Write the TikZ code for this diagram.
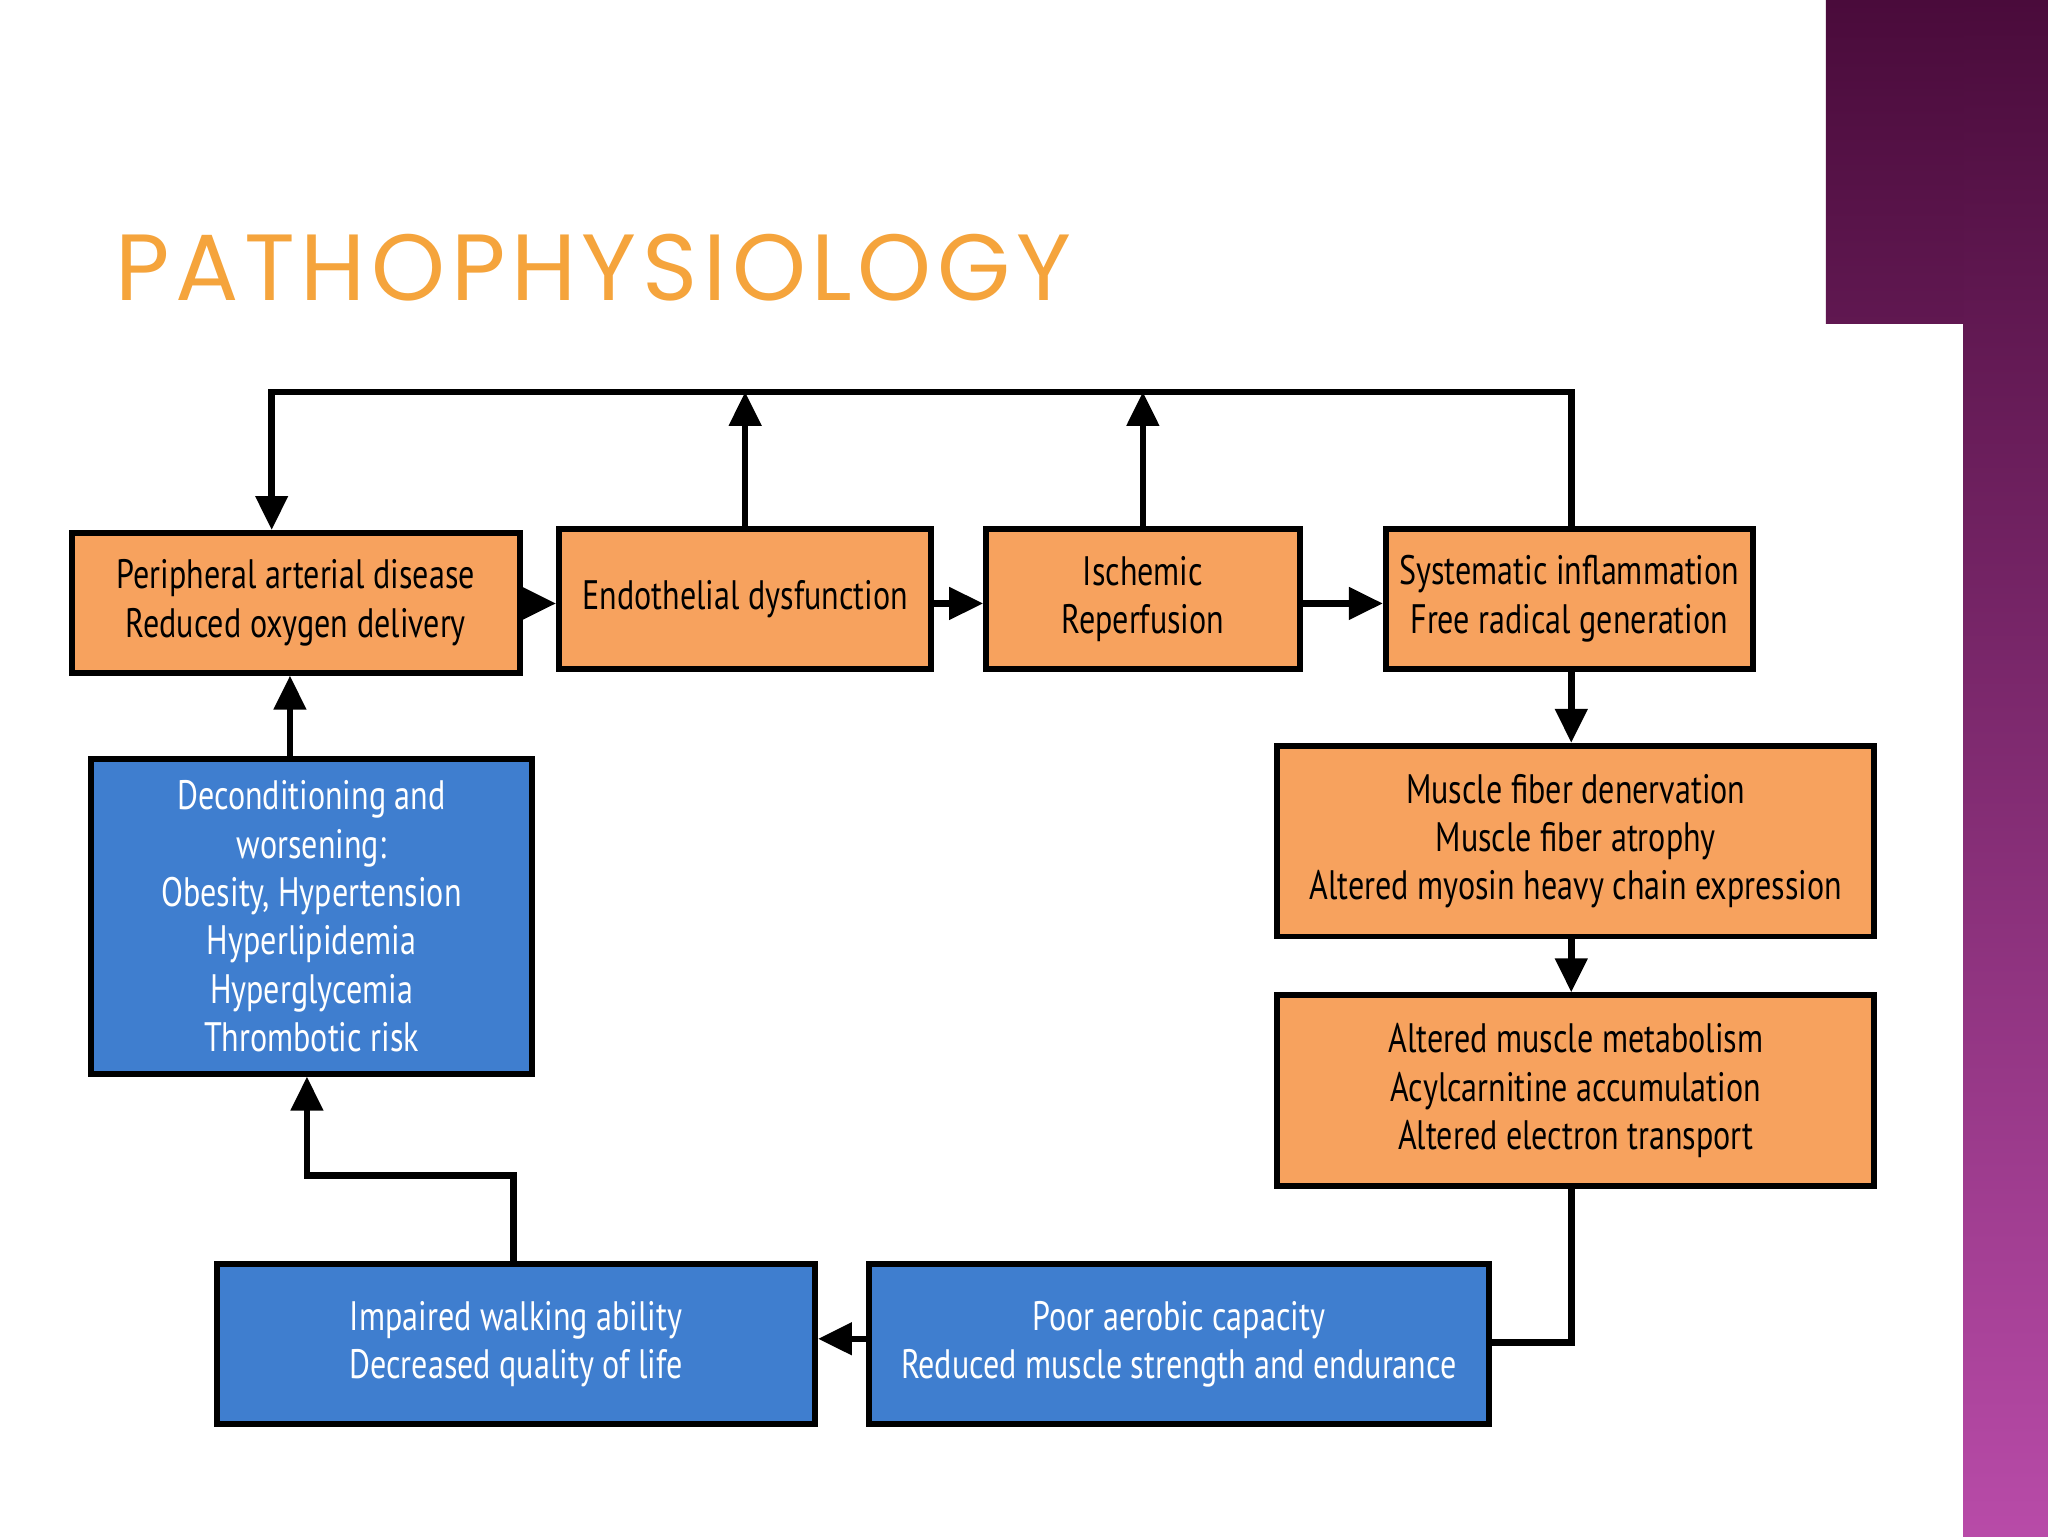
\documentclass[tikz,border=0pt]{standalone}
\usepackage{fontspec}
\setmainfont{PT Sans}[FakeStretch=0.78]
\newfontfamily\titlefont{Poppins}[LetterSpace=6]
\usetikzlibrary{arrows.meta}
\definecolor{boxor}{HTML}{F7A25E}
\definecolor{boxbl}{HTML}{3F7ECF}
\definecolor{purtop}{HTML}{4A0B3B}
\definecolor{purbot}{HTML}{B84BA8}
\definecolor{titor}{HTML}{F5A43C}
\begin{document}
\begin{tikzpicture}[x=1pt,y=-1pt,
  bx/.style={draw=black,line width=4.5pt,inner sep=0pt,align=center,font=\fontsize{31.5}{37}\selectfont},
  ob/.style={bx,fill=boxor,text=black},
  bb/.style={bx,fill=boxbl,text=white},
  ln/.style={line width=5pt,line cap=rect},
  ar/.style={ln,-{Triangle[length=26pt,width=24pt]}}]
\useasboundingbox (0,0) rectangle (1568,1176);
\fill[white] (0,0) rectangle (1568,1176);
\shade[top color=purtop,bottom color=purbot] (1503,0) rectangle (1568,1176);
\shade[top color=purtop,bottom color=purtop!80!purbot] (1398,0) rectangle (1503,248);
\node[anchor=west,text=titor,font=\titlefont\fontsize{72}{80}\selectfont,inner sep=0pt] (title) at (88,205) {PATHOPHYSIOLOGY};
% boxes
\node[ob,minimum width=343pt,minimum height=107pt] (pad) at (226.5,461.5) {Peripheral arterial disease\\Reduced oxygen delivery};
\node[ob,minimum width=285pt,minimum height=107pt] (endo) at (570.5,458.5) {Endothelial dysfunction};
\node[ob,minimum width=240pt,minimum height=107pt] (isch) at (875,458.5) {Ischemic\\Reperfusion};
\node[ob,minimum width=281pt,minimum height=107pt] (sys) at (1201.5,458.5) {Systematic inflammation\\Free radical generation};
\node[ob,minimum width=457pt,minimum height=146pt] (mus) at (1206.5,644) {Muscle fiber denervation\\Muscle fiber atrophy\\Altered myosin heavy chain expression};
\node[ob,minimum width=457pt,minimum height=146pt] (met) at (1206.5,835) {Altered muscle metabolism\\Acylcarnitine accumulation\\Altered electron transport};
\node[bb,minimum width=337pt,minimum height=241pt] (dec) at (238.5,701.5) {Deconditioning and\\worsening:\\Obesity, Hypertension\\Hyperlipidemia\\Hyperglycemia\\Thrombotic risk};
\node[bb,minimum width=458pt,minimum height=122pt] (imp) at (395,1029) {Impaired walking ability\\Decreased quality of life};
\node[bb,minimum width=475pt,minimum height=122pt] (poor) at (902.5,1029) {Poor aerobic capacity\\Reduced muscle strength and endurance};
% connectors
\coordinate (tl) at (208,300);
\coordinate (tr) at (1203,300);
\draw[ln] (tl) -- (tr) -- (sys.north -| tr);
\draw[ar] (tl) -- (tl |- pad.north);
\draw[ar] (endo.north) -- (endo.north |- tl);
\draw[ar] (isch.north) -- (isch.north |- tl);
\draw[ar] (pad.east |- 0,462) -- (endo.west |- 0,462);
\draw[ar] (endo.east |- 0,462) -- (isch.west |- 0,462);
\draw[ar] (isch.east |- 0,462) -- (sys.west |- 0,462);
\draw[ar] (sys.south -| tr) -- (mus.north -| tr);
\draw[ar] (mus.south -| tr) -- (met.north -| tr);
\coordinate (c1) at (1203,1028);
\draw[ln] (met.south -| c1) -- (c1) -- (poor.east |- c1);
\draw[ar] (poor.west |- 0,1025) -- (imp.east |- 0,1025);
\coordinate (b1) at (393,900);
\coordinate (b2) at (235,900);
\draw[ar] (imp.north -| b1) -- (b1) -- (b2) -- (b2 |- dec.south);
\draw[ar] (dec.north -| 222,0) -- (pad.south -| 222,0);
\end{tikzpicture}
\end{document}
